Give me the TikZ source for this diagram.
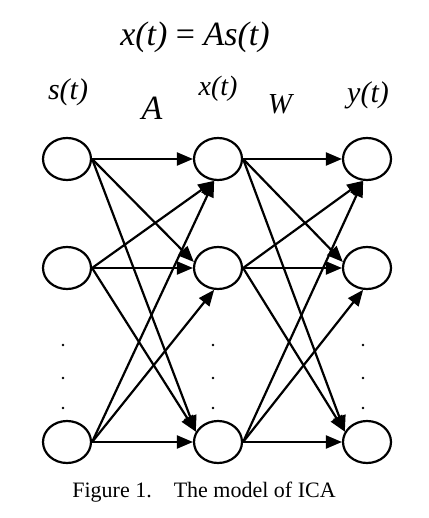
\documentclass[tikz,border=0pt]{standalone}
\usepackage{fontspec}
\setmainfont{Liberation Serif}
\usetikzlibrary{arrows.meta,shapes.geometric}

\begin{document}
\begin{tikzpicture}[x=1pt,y=-1pt,
            unit/.style={draw,ellipse,line width=2.2pt,minimum width=48pt,minimum height=42pt,inner sep=0pt},
            wt/.style={line width=2.2pt,-{Triangle[length=16pt,width=13pt]}},
            lbl/.style={font=\fontsize{30}{30}\selectfont\itshape}]
            \useasboundingbox (0,0) rectangle (428,518);
            \node[font=\fontsize{34}{34}\selectfont] (eq) at (195,37) {\textit{x(t)} = \textit{As(t)}};
            \node[lbl] (ls) at (68,92) {s(t)};
            \node[lbl,font=\fontsize{34}{34}\selectfont\itshape] (lA) at (152,108) {A};
            \node[lbl,font=\fontsize{28}{28}\selectfont\itshape] (lx) at (218,89) {x(t)};
            \node[lbl,font=\fontsize{29}{29}\selectfont\itshape] (lW) at (280,104) {W};
            \node[lbl] (ly) at (368,95) {y(t)};
            % sources, mixtures, outputs
            \node[unit] (s1) at (67,159) {};
            \node[unit] (s2) at (67,268) {};
            \node[unit] (s3) at (67,442) {};
            \node[unit] (x1) at (218,159) {};
            \node[unit] (x2) at (218,268) {};
            \node[unit] (x3) at (218,442) {};
            \node[unit] (y1) at (367,159) {};
            \node[unit] (y2) at (367,268) {};
            \node[unit] (y3) at (367,442) {};
            \fill (63,345) circle (1.4pt) (63,378) circle (1.4pt) (63,408) circle (1.4pt);
            \fill (213,345) circle (1.4pt) (213,378) circle (1.4pt) (213,408) circle (1.4pt);
            \fill (363,345) circle (1.4pt) (363,378) circle (1.4pt) (363,408) circle (1.4pt);
            % A
            \draw[wt] (s1.east) -- (x1.west);
            \draw[wt] (s1.east) -- (x2.166);
            \draw[wt] (s1.east) -- (x3.155);
            \draw[wt] (s2.east) -- (x1.260);
            \draw[wt] (s2.east) -- (x2.west);
            \draw[wt] (s2.east) -- (x3.155);
            \draw[wt] (s3.east) -- (x1.260);
            \draw[wt] (s3.east) -- (x2.260);
            \draw[wt] (s3.east) -- (x3.west);
            % W
            \draw[wt] (x1.east) -- (y1.west);
            \draw[wt] (x1.east) -- (y2.166);
            \draw[wt] (x1.east) -- (y3.155);
            \draw[wt] (x2.east) -- (y1.260);
            \draw[wt] (x2.east) -- (y2.west);
            \draw[wt] (x2.east) -- (y3.155);
            \draw[wt] (x3.east) -- (y1.260);
            \draw[wt] (x3.east) -- (y2.260);
            \draw[wt] (x3.east) -- (y3.west);
            \node[font=\fontsize{22}{22}\selectfont] (cap) at (204,492) {Figure 1.\hspace{1em}The model of ICA};
        \end{tikzpicture}
\end{document}
